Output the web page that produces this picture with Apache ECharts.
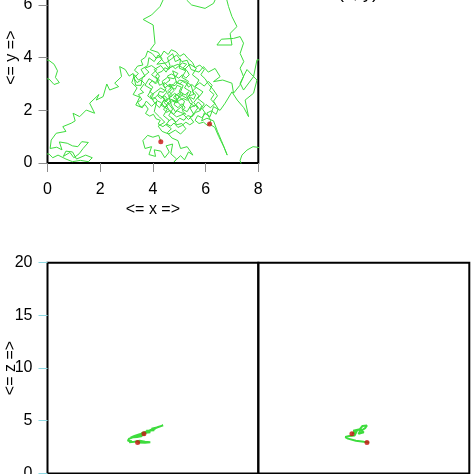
<!DOCTYPE html>
<html><head><meta charset="utf-8">
<script src="https://cdn.jsdelivr.net/npm/echarts@6/dist/echarts.min.js"></script>
<style>html,body{margin:0;padding:0;background:#fff}#c{width:474px;height:474px}</style>
</head><body><div id="c"></div>
<script>
// tick values
const xyTicks = [0, 2, 4, 6, 8];
const zTicks = [0, 5, 10, 15, 20];

// x-y random walk in pieces (walk leaves the visible area between pieces)
const walkCentre = [[4.30,0.81],[4.22,1.05],[4.00,0.98],[3.80,1.05],[3.62,0.85],[3.70,0.55],[3.95,0.62],[3.85,0.32],[4.10,0.25],[4.05,0.50],[4.30,0.45],[4.45,0.20],[4.62,0.42],[4.50,0.65],[4.75,0.72],[4.68,0.35],[4.90,0.15],[4.80,0.04],[5.05,0.28],[5.20,0.12],[5.35,0.42],[5.52,0.30],[5.30,0.62],[5.05,0.55],[4.95,0.85],[4.72,0.95],[4.55,1.15],[4.70,1.30],[4.50,1.45],[4.62,1.62],[4.40,1.80],[4.55,2.05],[4.30,2.20],[4.45,2.45],[4.20,2.60],[4.00,2.40],[3.80,2.55],[3.95,2.80],[3.70,2.95],[3.85,3.20],[4.10,3.05],[4.25,3.30],[4.05,3.55],[4.30,3.70],[4.50,3.45],[4.65,3.70],[4.55,4.00],[4.75,4.15],[4.85,3.85],[5.05,3.95],[5.00,3.60],[5.25,3.50],[5.10,3.25],[5.35,3.10],[5.20,2.85],[5.45,2.70],[5.30,2.45],[5.05,2.60],[4.90,2.35],[5.10,2.15],[4.85,1.95],[4.70,2.20],[4.60,2.55],[4.80,2.75],[4.65,3.00],[4.45,2.85],[4.35,3.10],[4.55,3.25],[4.80,3.20],[4.95,3.40],[4.75,3.50],[4.90,3.05],[5.15,2.95],[5.05,2.70],[4.85,2.55],[4.95,2.30],[4.70,2.40],[4.50,2.20],[4.65,1.95],[4.90,1.75],[5.15,1.85],[5.35,1.65],[5.55,1.85],[5.40,2.10],[5.65,2.20],[5.80,2.00],[5.95,2.25],[5.70,2.45],[5.90,2.70],[5.60,2.90],[5.75,3.15],[5.50,3.35],[5.65,3.60],[5.40,3.75],[5.20,3.55],[4.95,3.75],[4.60,3.60],[4.40,3.85],[4.20,4.10],[4.05,3.85],[3.85,4.00],[3.80,3.70],[3.55,3.55],[3.70,3.30],[3.45,3.15],[3.30,3.35],[3.20,3.05],[3.40,2.85],[3.25,2.60],[3.50,2.50],[3.35,2.20],[3.60,2.10],[3.75,2.35],[3.95,2.15],[4.15,2.35],[4.05,1.95],[4.25,1.75],[4.45,1.55],[4.20,1.40],[4.35,1.20],[4.60,1.10],[4.85,1.25],[5.05,1.10],[5.25,1.30],[5.10,1.50],[4.90,1.45],[4.80,1.65],[4.60,1.80],[4.75,2.05],[4.55,2.30],[4.35,2.50],[4.55,2.70],[4.30,2.85],[4.10,2.70],[3.90,2.55],[4.05,2.30],[4.25,2.10],[4.40,2.35],[4.60,2.45],[4.85,2.35],[5.00,2.50],[5.20,2.35],[5.10,2.05],[5.30,1.95],[5.50,2.30],[5.35,2.55],[5.55,2.60],[5.45,2.95],[5.25,3.10],[5.00,3.15],[4.85,2.95],[4.60,2.90],[4.45,3.05],[4.25,2.95],[4.15,3.20],[3.95,3.35],[4.15,3.55],[3.95,3.70],[3.70,3.60],[3.85,3.45],[3.60,3.25],[3.55,2.95],[3.35,2.95],[3.25,3.40],[3.10,3.30],[2.95,3.55],[2.74,3.66],[2.81,3.28],[2.55,3.03],[2.70,2.90],[2.36,2.77],[2.25,3.00],[2.11,2.52],[1.85,2.39],[1.95,2.60],[1.60,2.27],[1.79,1.89],[1.47,2.01],[1.22,1.76],[0.97,1.89],[1.05,1.60],[0.90,1.51],[0.58,1.38],[0.70,1.20],[0.33,1.13],[0.14,0.87],[0.10,0.55],[0.35,0.60],[0.55,0.50],[0.45,0.80],[0.75,0.75],[0.95,0.65],[1.15,0.62],[1.30,0.81],[1.55,0.78],[1.35,0.55],[1.20,0.35],[1.00,0.20],[0.85,0.40],[0.60,0.25],[0.70,0.45],[0.95,0.42],[1.10,0.15],[1.45,0.30],[1.70,0.20],[1.55,0.05],[1.25,0.10],[0.95,0.05],[0.70,0.15],[0.40,0.30],[0.20,0.20],[0.05,0.35],[-0.30,0.30]];
const walkCore = [[4.60,2.45],[4.72,2.60],[4.58,2.75],[4.70,2.88],[4.85,2.80],[4.92,2.95],[5.08,2.88],[5.00,2.72],[5.15,2.62],[5.02,2.48],[4.88,2.62],[4.78,2.48],[4.90,2.40],[4.80,2.22],[4.95,2.10],[5.10,2.25],[5.22,2.12],[5.12,1.98],[5.25,1.85],[5.05,1.92],[4.92,1.98],[4.78,1.85],[4.65,2.00],[4.52,1.92],[4.40,2.05],[4.55,2.18],[4.42,2.30],[4.58,2.40],[4.45,2.55],[4.30,2.45],[4.18,2.55],[4.25,2.72],[4.40,2.68],[4.50,2.82],[4.38,2.95],[4.52,3.05],[4.65,3.15],[4.55,3.30],[4.70,3.38],[4.85,3.30],[4.98,3.22],[5.12,3.35],[5.25,3.22],[5.38,3.35],[5.30,3.50],[5.15,3.62],[5.28,3.75],[5.12,3.80],[4.98,3.68],[4.85,3.58],[4.72,3.70],[4.60,3.55],[4.45,3.62],[4.35,3.48],[4.20,3.42],[4.10,3.28],[4.25,3.15],[4.10,3.00],[3.98,3.12],[3.85,3.00],[4.00,2.88],[3.88,2.72],[4.02,2.60],[3.92,2.45],[4.08,2.48],[4.18,2.35],[4.30,2.30],[4.45,2.12],[4.62,2.25],[4.75,2.35],[4.88,2.28],[5.00,2.38],[5.15,2.45],[5.30,2.38],[5.42,2.50],[5.55,2.42],[5.62,2.58],[5.50,2.72],[5.62,2.85],[5.48,2.98],[5.35,2.88],[5.28,3.02],[5.12,3.10],[5.02,3.00],[4.88,3.10],[4.78,2.98],[4.62,2.95],[4.70,2.78],[4.55,2.62],[4.68,2.50],[4.82,2.65],[4.95,2.55],[5.08,2.68],[5.22,2.58],[5.35,2.70],[5.28,2.55],[5.40,2.28],[5.58,2.15],[5.72,2.32],[5.85,2.18],[5.78,1.98],[5.62,1.92],[5.48,1.75],[5.32,1.80],[5.18,1.62],[5.02,1.70],[4.88,1.55],[4.72,1.68],[4.58,1.58]];
const walkCoreOuter = [[5.60,2.90],[5.78,3.05],[5.95,2.92],[6.10,3.10],[6.25,2.95],[6.15,2.75],[6.32,2.60],[6.20,2.42],[6.35,2.25],[6.18,2.10],[6.02,2.22],[5.88,2.05],[6.00,1.88],[5.85,1.72],[5.70,1.80],[5.60,1.62],[5.75,1.50],[5.92,1.55],[6.08,1.42],[6.20,1.60],[6.05,1.90],[6.22,1.98],[6.40,1.85],[6.48,2.05],[6.30,2.35],[6.45,2.55],[6.28,2.80],[6.12,2.98],[5.98,3.20],[5.82,3.35],[5.95,3.55],[5.78,3.72],[5.60,3.62],[5.50,3.82],[5.32,3.98],[5.18,4.15],[5.02,4.05],[4.88,4.22],[4.70,4.30],[4.58,4.12],[4.42,4.25],[4.30,4.05],[4.12,3.98],[3.98,4.15],[3.80,4.25],[3.72,4.02],[3.55,3.90],[3.62,3.72],[3.42,3.68],[3.30,3.52],[3.45,3.40],[3.28,3.22],[3.40,3.05],[3.55,3.15],[3.68,3.02],[3.52,2.80],[3.65,2.68],[3.45,2.60],[3.58,2.42],[3.42,2.30],[3.55,2.12],[3.70,2.22],[3.82,2.05],[3.72,1.88],[3.88,1.78],[4.02,1.85],[4.12,1.68],[4.28,1.62],[4.20,1.48],[4.38,1.38],[4.52,1.48],[4.68,1.40],[4.80,1.52],[4.95,1.35],[5.10,1.42],[5.25,1.55],[5.40,1.45],[5.55,1.55],[5.42,1.72],[5.58,1.92],[5.70,2.08],[5.55,2.30],[5.75,2.55],[5.60,2.72]];
const walkLeftEdge = [[-0.30,3.95],[0.05,3.90],[0.25,3.75],[0.38,3.50],[0.30,3.25],[0.45,3.05],[0.25,2.98],[0.05,3.20],[-0.30,3.15]];
const walkUpper = [[4.50,7.00],[4.39,6.20],[4.27,5.94],[3.95,5.62],[3.63,5.45],[4.01,5.24],[4.08,4.54],[3.90,4.30],[4.20,4.20],[4.35,3.95],[4.15,3.75],[4.50,3.80],[4.70,3.95],[4.90,4.10],[5.10,3.85],[5.30,3.90],[5.45,3.55],[5.75,3.45],[5.92,3.66],[6.10,3.45],[6.36,3.59],[6.55,3.28],[6.30,3.09],[6.65,3.15],[7.00,3.03],[7.06,2.65],[7.30,2.95],[7.44,3.28],[7.31,3.60],[7.45,3.85],[7.31,4.16],[7.44,4.55],[7.31,4.80],[7.06,4.73],[6.60,4.70],[6.43,4.48],[7.00,4.48],[6.93,4.92],[7.19,5.18],[7.00,5.56],[6.87,5.94],[6.70,6.60]];
const walkTopRight = [[5.20,6.60],[5.28,6.19],[5.47,6.00],[5.98,5.87],[6.30,6.06],[6.55,6.60]];
const walkRight = [[8.20,3.90],[7.95,3.92],[7.82,3.28],[7.57,3.55],[7.31,3.03],[7.44,2.77],[7.82,3.28],[7.95,3.15],[7.82,2.65],[7.50,2.39],[7.63,1.76],[7.45,2.10],[7.20,2.39],[7.00,2.70],[6.74,2.27],[6.55,2.00],[6.30,2.14],[6.17,1.76],[5.95,1.90],[5.85,1.60],[6.05,1.70],[6.30,1.60],[6.45,1.20],[6.60,0.85],[6.72,0.55],[6.82,0.30],[6.70,0.60],[6.50,1.00],[6.35,1.35],[6.15,1.48]];
const walkLowRight = [[8.20,0.55],[7.95,0.60],[7.80,0.62],[7.57,0.49],[7.38,0.30],[7.31,0.10],[7.40,-0.20]];
const xyEnds = [[4.30,0.81],[6.15,1.48]];

// lower panels: z against x (left) and z against y (right)
const xzTrace = [[3.66,3.77],[3.80,3.95],[3.60,3.85],[3.90,4.10],[4.10,4.25],[3.85,4.05],[4.20,4.40],[4.39,4.56],[4.15,4.35],[3.95,4.25],[4.05,4.10],[3.75,4.05],[3.90,3.90],[3.55,3.80],[3.70,3.70],[3.45,3.60],[3.75,3.85],[3.50,3.72],[3.30,3.55],[3.15,3.40],[3.40,3.45],[3.60,3.55],[3.30,3.45],[3.10,3.30],[3.05,3.10],[3.20,3.05],[3.10,2.95],[3.30,3.00],[3.50,3.10],[3.70,3.00],[3.90,2.95],[3.70,2.90],[3.42,2.94]];
const xzEnds = [[3.66,3.77],[3.42,2.94]];
const yzTrace = [[3.55,3.77],[3.70,3.95],[3.60,4.05],[3.85,4.20],[3.95,4.50],[4.12,4.55],[4.05,4.30],[3.90,4.05],[4.00,3.90],[3.80,3.75],[3.90,4.25],[3.75,4.10],[3.65,3.60],[3.45,3.55],[3.30,3.45],[3.40,3.30],[3.36,3.18],[3.70,3.10],[4.00,3.00],[4.20,2.94],[4.12,2.94]];
const yzEnds = [[3.55,3.77],[4.12,2.94]];

const FONT = '"Liberation Sans", Arial, sans-serif';
const GREEN = '#3ddc3d';
const RED = '#c81010';
const chart = echarts.init(document.getElementById('c'), null, {renderer: 'canvas'});

function valAxis(grid, ticks, show, tickColor, name) {
  const step = ticks[1] - ticks[0];
  return {
    gridIndex: grid, type: 'value', min: ticks[0], max: ticks[ticks.length - 1], interval: step,
    show: show,
    axisLine: {show: false},
    axisTick: {show: true, length: 9, lineStyle: {color: tickColor, width: 1}},
    axisLabel: {show: true, fontSize: 16, color: '#000', fontFamily: FONT},
    splitLine: {show: false},
    name: name, nameLocation: 'middle', nameMoveOverlap: false,
    nameTextStyle: {fontSize: 16, color: '#000', fontFamily: FONT}
  };
}

const xs = [valAxis(0, xyTicks, true, '#8c8c8c', '<= x =>'), valAxis(1, xyTicks, false, '#000', ''), valAxis(2, xyTicks, false, '#000', '')];
xs[0].axisLabel.margin = 19; xs[0].nameGap = 39;
const ys = [valAxis(0, xyTicks, true, '#8c8c8c', '<= y =>'), valAxis(1, zTicks, true, '#8ed9e3', '<= z =>'), valAxis(2, zTicks, false, '#000', '')];
ys[0].axisLabel.margin = 15; ys[0].nameGap = 28;
ys[1].axisLabel.margin = 15; ys[1].nameGap = 29;

function line(data, xi) {
  return {type: 'line', xAxisIndex: xi, yAxisIndex: xi, data: data, symbol: 'none', showSymbol: false,
    lineStyle: {color: GREEN, width: xi === 0 ? 1 : 2}, clip: true, silent: true, animation: false};
}
function dots(data, xi) {
  return {type: 'scatter', xAxisIndex: xi, yAxisIndex: xi, data: data, symbolSize: 5,
    itemStyle: {color: RED}, silent: true, animation: false, z: 5};
}

const gridBase = {show: true, borderColor: '#000', borderWidth: 2, containLabel: false, outerBoundsMode: 'none'};
chart.setOption({
  animation: false,
  grid: [
    Object.assign({left: 47.5, top: -47.7, width: 210.8, height: 210.7}, gridBase),
    Object.assign({left: 47.5, top: 262.7, width: 210.8, height: 210.7}, gridBase),
    Object.assign({left: 258.3, top: 262.7, width: 211, height: 210.7}, gridBase)
  ],
  xAxis: xs,
  yAxis: ys,
  graphic: [{type: 'text', left: 338, top: -16, style: {text: '(x, y)', font: '18px ' + FONT, fill: '#000'}}],
  series: [
    line(walkCentre, 0), line(walkCore, 0), line(walkCoreOuter, 0), line(walkLeftEdge, 0), line(walkUpper, 0), line(walkTopRight, 0), line(walkRight, 0), line(walkLowRight, 0),
    dots(xyEnds, 0),
    line(xzTrace, 1), dots(xzEnds, 1),
    line(yzTrace, 2), dots(yzEnds, 2)
  ]
});
</script></body></html>
